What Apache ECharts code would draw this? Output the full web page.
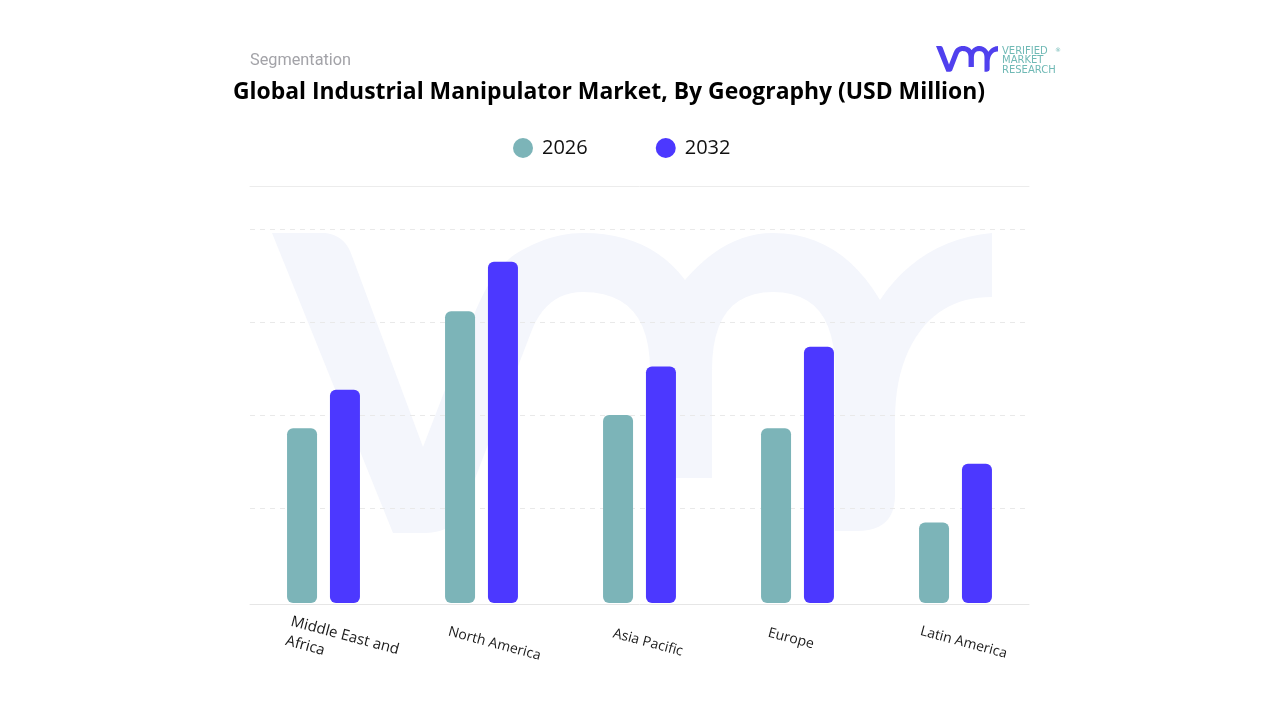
<!DOCTYPE html>
<html><head><meta charset="utf-8">
<style>html,body{margin:0;padding:0;background:#fff}#c{width:1280px;height:720px}</style>
<script src="https://cdn.jsdelivr.net/npm/echarts@6/dist/echarts.min.js"></script>
</head><body><div id="c"></div>
<script>
const categories = ['Middle East and\nAfrica','North America','Asia Pacific','Europe','Latin America'];
const values2026 = [187,312,201,187,86];
const values2032 = [228,365,253,274,149];
const seriesNames = ['2026','2032'];
const colors = ['#7cb4b8','#4c38ff'];
const titleText = 'Global Industrial Manipulator Market, By Geography (USD Million)';
const kicker = 'Segmentation';
const labelShift = [0,2,9,6,0];
const labelDrop = [19,0,0,0,0];
const labelSize = [15,14,14,14,14];
// Brand mark outline: [x,y] is a straight segment, [cx,cy,x,y] a quadratic curve
const logoOutline = [[272,233],[325,233],[345,235,352,256],[423,447],[470,325],[490,270,517,253],[550,233,583,233],[650,233,685,280],[725,233,773,233],[840,233,880,300],[920,240,992,233],[992,297],[950,297,925,325],[895,360,895,420],[895,495],[895,531,857,531],[835,531],[835,370],[835,292,773,292],[712,292,712,370],[712,478],[650,478],[650,370],[650,292,583,292],[545,292,530,335],[463,510],[452,533,425,533],[393,533]];
function logoPoints(ox,oy,s){
  const pts=[];let px=0,py=0;
  logoOutline.forEach(seg=>{
    if(seg.length===2){pts.push(seg);px=seg[0];py=seg[1];}
    else{for(let i=1;i<=12;i++){const t=i/12,u=1-t;
      pts.push([u*u*px+2*u*t*seg[0]+t*t*seg[2],u*u*py+2*u*t*seg[1]+t*t*seg[3]]);}
      px=seg[2];py=seg[3];}
  });
  return pts.map(p=>[ox+(p[0]-272)*s,oy+(p[1]-233)*s]);
}
const labelData = categories.map((c,i)=>({value:c,textStyle:{fontSize:labelSize[i],padding:[labelDrop[i],0,0,labelShift[i]]}}));
const chart = echarts.init(document.getElementById('c'));
chart.setOption({
  animation:false,
  backgroundColor:'#fff',
  title:[
    {text:kicker,left:250,top:53,padding:0,textStyle:{fontFamily:'Roboto',fontSize:16.3,fontWeight:'normal',color:'#a3a3a8'}},
    {text:titleText,left:233,top:81,padding:0,textStyle:{fontFamily:'Open Sans',fontSize:22.9,fontWeight:'bold',color:'#000'}}
  ],
  legend:{data:seriesNames,left:513,top:138,padding:0,icon:'circle',itemWidth:20,itemHeight:20,itemGap:68,
    textStyle:{fontFamily:'Open Sans',fontSize:20,color:'#111',padding:[6,0,0,4]}},
  graphic:[
    {type:'polygon',z:-10,silent:true,shape:{points:logoPoints(272,233,1)},style:{fill:'#f4f6fc'}},
    {type:'polygon',z:5,silent:true,shape:{points:logoPoints(936,46,0.0861)},style:{fill:'#5040ee'}},
    {type:'text',x:1002,y:46,silent:true,style:{text:'VERIFIED',fontFamily:'DejaVu Sans',fontSize:10,fill:'#6fb9b5'}},
    {type:'text',x:1002,y:55.5,silent:true,style:{text:'MARKET',fontFamily:'DejaVu Sans',fontSize:10,fill:'#6fb9b5'}},
    {type:'text',x:1002,y:65,silent:true,style:{text:'RESEARCH',fontFamily:'DejaVu Sans',fontSize:10,fill:'#6fb9b5'}},
    {type:'text',x:1055,y:47,silent:true,style:{text:'®',fontFamily:'DejaVu Sans',fontSize:6,fill:'#6fb9b5'}}
  ],
  grid:[
    {left:244.5,width:790,top:186,height:417},
    {left:250,width:779,top:186,height:415},
    {left:209.5,width:790,top:186,height:417},
    {left:250,width:779,top:186,height:418}
  ],
  xAxis:[
    {gridIndex:0,type:'category',data:categories,axisLine:{show:false},axisTick:{show:false},axisLabel:{show:false}},
    {gridIndex:3,type:'value',min:0,max:1,position:'bottom',splitLine:{show:false},axisTick:{show:false},axisLabel:{show:false},axisLine:{show:true,onZero:false,lineStyle:{color:'#e6e6e6',width:1}}},
    {gridIndex:2,type:'category',data:labelData,axisLine:{show:false},axisTick:{show:false},
      axisLabel:{show:true,interval:0,rotate:-15,align:'left',verticalAlign:'top',margin:28,fontFamily:'Open Sans',fontSize:14,color:'#1a1a1a',lineHeight:20}},
    {gridIndex:1,type:'value',min:0,max:1,position:'top',splitLine:{show:false},axisTick:{show:false},axisLabel:{show:false},axisLine:{show:true,onZero:false,lineStyle:{color:'#ececec',width:1}}}
  ],
  yAxis:[
    {gridIndex:0,type:'value',min:0,max:446,interval:100,show:false,splitLine:{show:false}},
    {gridIndex:1,type:'value',min:0,max:446.2,interval:100,axisLine:{show:false},axisTick:{show:false},axisLabel:{show:false},
      splitLine:{show:true,showMinLine:false,showMaxLine:false,lineStyle:{color:'#e9e9e9',type:[5,5],width:1}}},
    {gridIndex:2,type:'value',min:0,max:446,show:false,splitLine:{show:false}},
    {gridIndex:3,type:'value',min:0,max:446,show:false,splitLine:{show:false}}
  ],
  series:[
    {name:seriesNames[0],type:'bar',xAxisIndex:0,yAxisIndex:0,data:values2026,barWidth:30,barGap:'43%',itemStyle:{color:colors[0],borderRadius:6}},
    {name:seriesNames[1],type:'bar',xAxisIndex:0,yAxisIndex:0,data:values2032,barWidth:30,barGap:'43%',itemStyle:{color:colors[1],borderRadius:6}}
  ]
});
</script></body></html>
